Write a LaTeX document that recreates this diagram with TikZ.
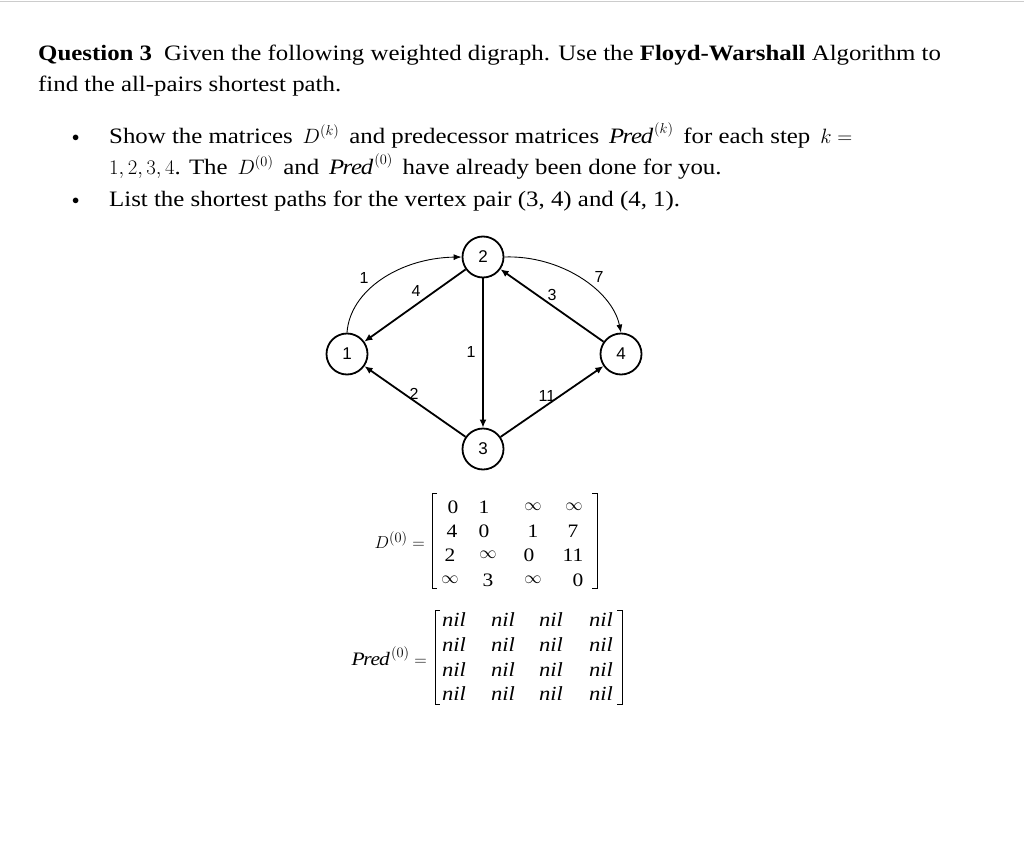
\documentclass[tikz,border=0pt]{standalone}
\usepackage{fontspec}
\setmainfont{Liberation Serif}[FakeStretch=1.13]
\newfontfamily\gsans{Liberation Sans}
\usetikzlibrary{arrows.meta}
\begin{document}
\begin{tikzpicture}[x=1pt,y=-1pt,
  txt/.style={anchor=base west,inner sep=0,font=\fontsize{22}{26}\selectfont},
  vtx/.style={circle,draw,line width=1.8pt,minimum size=41pt,inner sep=0,font=\gsans\fontsize{17}{19}\selectfont},
  edge/.style={line width=1.8pt,-{Latex[length=8pt,width=7pt]}},
  cedge/.style={line width=0.9pt,-{Latex[length=8pt,width=6pt]}},
  elab/.style={font=\gsans\fontsize{16}{18}\selectfont,inner sep=0},
  ent/.style={font=\fontsize{19}{22}\selectfont,inner sep=0},
  nl/.style={font=\fontsize{20}{23}\selectfont\itshape,inner sep=0},
  brk/.style={line width=1pt}]
\useasboundingbox (0,0) rectangle (1024,856);
\draw[gray!40,line width=0.8pt] (0,1) -- (1024,1);
\node[txt] (q1) at (38,61) {\textbf{Question 3}\hspace{12pt}Given the following weighted digraph. Use the \textbf{Floyd-Warshall} Algorithm to};
\node[txt] (q2) at (38,92) {find the all-pairs shortest path.};
\node[txt,font=\fontsize{14}{16}\selectfont] (b1) at (72,141) {$\bullet$};
\node[txt,font=\fontsize{14}{16}\selectfont] (b2) at (72,204) {$\bullet$};
\node[txt] (l1) at (109,143) {Show the matrices \,$D^{(k)}$\, and predecessor matrices \,$\mathit{Pred}^{\,(k)}$\, for each step \,$k=$};
\node[txt] (l2) at (109,174) {$1,2,3,4$. The \,$D^{(0)}$\, and \,$\mathit{Pred}^{\,(0)}$\, have already been done for you.};
\node[txt] (l3) at (109,206) {List the shortest paths for the vertex pair (3, 4) and (4, 1).};

\node[vtx] (n1) at (347,354) {1};
\node[vtx] (n2) at (483,257) {2};
\node[vtx] (n3) at (483,449) {3};
\node[vtx] (n4) at (621,354) {4};
\draw[cedge] (n1.north) .. controls (350,290) and (400,258) .. (n2.west);
\draw[cedge] (n2.east) .. controls (560,255) and (612,290) .. (n4.north);
\draw[edge] (n2) -- (n1);
\draw[edge] (n2) -- (n3);
\draw[edge] (n4) -- (n2);
\draw[edge] (n3) -- (n1);
\draw[edge] (n3) -- (n4);
\node[elab] (w12) at (364,278) {1};
\node[elab] (w21) at (416,291) {4};
\node[elab] (w23) at (471,352) {1};
\node[elab] (w42) at (552,295) {3};
\node[elab] (w24) at (599,277) {7};
\node[elab] (w31) at (414,394) {2};
\node[elab] (w34) at (547,396) {11};

\node[ent,anchor=east] (dl) at (425,540) {$D^{(0)}=$};
\node[ent] (d11) at (453,507) {0}; \node[ent] (d12) at (484,507) {1}; \node[ent] (d13) at (533,507) {$\infty$}; \node[ent] (d14) at (574,507) {$\infty$};
\node[ent] (d21) at (452,531) {4}; \node[ent] (d22) at (484,531) {0}; \node[ent] (d23) at (533,531) {1}; \node[ent] (d24) at (573,531) {7};
\node[ent] (d31) at (450,555) {2}; \node[ent] (d32) at (488,555) {$\infty$}; \node[ent] (d33) at (529,555) {0}; \node[ent] (d34) at (573,555) {11};
\node[ent] (d41) at (450,580) {$\infty$}; \node[ent] (d42) at (488,580) {3}; \node[ent] (d43) at (533,580) {$\infty$}; \node[ent] (d44) at (578,580) {0};
\draw[brk] (437,493) -- (432,493) -- (432,588) -- (437,588);
\draw[brk] (592,493) -- (597,493) -- (597,588) -- (592,588);

\node[ent,anchor=east] (pl) at (427,656) {$\mathit{Pred}^{\,(0)}=$};
\foreach \c/\x in {1/454,2/503,3/551,4/601}{
  \foreach \r/\y in {1/620,2/645,3/670,4/694}{
    \node[nl] (p\r\c) at (\x,\y) {nil};
  }
}
\draw[brk] (440,610) -- (435,610) -- (435,704) -- (440,704);
\draw[brk] (617,610) -- (622,610) -- (622,704) -- (617,704);
\end{tikzpicture}
\end{document}
